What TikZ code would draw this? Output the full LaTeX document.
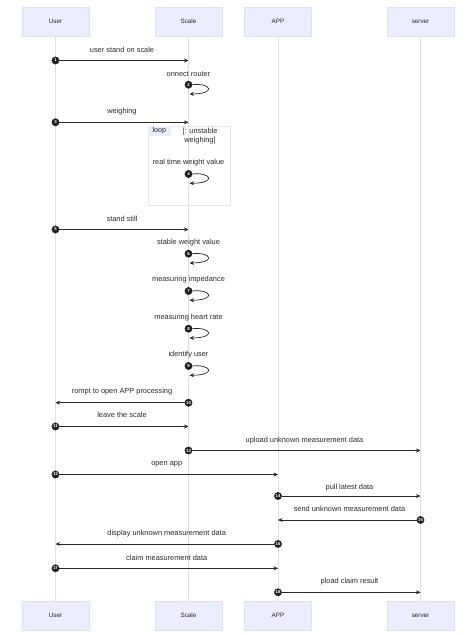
\documentclass[tikz,border=0pt]{standalone}
\usepackage{fontspec}
\setmainfont{Liberation Sans}
\usetikzlibrary{arrows.meta}
\definecolor{actfill}{RGB}{236,236,255}
\definecolor{actdraw}{RGB}{224,224,242}
\definecolor{lifec}{RGB}{224,224,224}
\definecolor{ink}{RGB}{40,40,40}
\definecolor{loopc}{RGB}{228,228,240}
\begin{document}
\begin{tikzpicture}[x=1pt,y=-1pt,
  actor/.style={draw=actdraw, fill=actfill, minimum width=67pt, minimum height=29pt, inner sep=0pt, font=\fontsize{6.3}{7}\selectfont, text=ink, line width=0.6pt},
  msg/.style={draw=ink, line width=0.7pt, -{Stealth[length=4.5pt,width=4pt]}},
  num/.style={circle, fill=black!88, draw=black!88, inner sep=0pt, minimum size=7.3pt, text=white, font=\fontsize{4.3}{4.3}\selectfont\bfseries},
  lbl/.style={font=\fontsize{7.4}{8.3}\selectfont, text=ink, inner sep=0pt, align=center},
  lifeline/.style={draw=lifec, line width=0.9pt}]
\useasboundingbox (0,0) rectangle (474,635);
% actors
\node[actor] (uT) at (55.5,21.5) {User};
\node[actor] (sT) at (188.5,21.5) {Scale};
\node[actor] (aT) at (278,21.5) {APP};
\node[actor] (vT) at (420.5,21.5) {server};
\node[actor] (uB) at (55.5,615.5) {User};
\node[actor] (sB) at (188.5,615.5) {Scale};
\node[actor] (aB) at (278,615.5) {APP};
\node[actor] (vB) at (420.5,615.5) {server};
\draw[lifeline] (uT.south) -- (uB.north);
\draw[lifeline] (sT.south) -- (sB.north);
\draw[lifeline] (aT.south) -- (aB.north);
\draw[lifeline] (vT.south) -- (vB.north);
% loop frame
\node[draw=loopc, line width=0.6pt, minimum width=82pt, minimum height=79.5pt, inner sep=0pt] (loopbox) at (189,166) {};
\node[fill=actfill, minimum width=23pt, minimum height=9.5pt, inner sep=0pt, anchor=north west, font=\fontsize{7.2}{8}\selectfont, text=ink] (looptag) at (loopbox.north west) {loop};
\node[lbl] (loopcond) at (200,136) {[: unstable\\weighing]};
% message 1
\node[num] (m1) at (55.5,60.5) {1};
\coordinate (e1) at (188.5,60.5);
\draw[msg] (m1) -- (e1);
\node[lbl] (l1) at (122,50) {user stand on scale};
% message 3
\node[num] (m3) at (55.5,122.3) {3};
\coordinate (e3) at (188.5,122.3);
\draw[msg] (m3) -- (e3);
\node[lbl] (l3) at (122,111.5) {weighing};
% message 5
\node[num] (m5) at (55.5,229.5) {5};
\coordinate (e5) at (188.5,229.5);
\draw[msg] (m5) -- (e5);
\node[lbl] (l5) at (122,218.7) {stand still};
% self messages
\foreach \n/\y/\t in {2/84.7/onnect router, 4/174/real time weight value, 6/253.7/stable weight value, 7/291/measuring impedance, 8/328.7/measuring heart rate, 9/366/identify user}{
  \node[num] (m\n) at (188.5,\y) {\n};
  \coordinate (e\n) at (189.5,\y+9.3);
  \draw[msg] (m\n.east) .. controls (211,\y-2) and (217,\y+9) .. (e\n);
  \node[lbl] (l\n) at (188.5,\y-11) {\t};
}
% message 10
\node[num] (m10) at (188.5,402.7) {10};
\coordinate (e10) at (55.5,402.7);
\draw[msg] (m10) -- (e10);
\node[lbl] (l10) at (122,391.7) {rompt to open APP processing};
% message 11
\node[num] (m11) at (55.5,426.5) {11};
\coordinate (e11) at (188.5,426.5);
\draw[msg] (m11) -- (e11);
\node[lbl] (l11) at (122,415.3) {leave the scale};
% message 12
\node[num] (m12) at (188.5,450.5) {12};
\coordinate (e12) at (420.5,450.5);
\draw[msg] (m12) -- (e12);
\node[lbl] (l12) at (304.5,440.3) {upload unknown measurement data};
% message 13
\node[num] (m13) at (55.5,474.5) {13};
\coordinate (e13) at (278,474.5);
\draw[msg] (m13) -- (e13);
\node[lbl] (l13) at (166.7,464) {open app};
% message 14
\node[num] (m14) at (278,496) {14};
\coordinate (e14) at (420.5,496);
\draw[msg] (m14) -- (e14);
\node[lbl] (l14) at (349.5,488) {pull latest data};
% message 15
\node[num] (m15) at (420.5,520) {15};
\coordinate (e15) at (278,520);
\draw[msg] (m15) -- (e15);
\node[lbl] (l15) at (349.5,509.3) {send unknown measurement data};
% message 16
\node[num] (m16) at (278,544) {16};
\coordinate (e16) at (55.5,544);
\draw[msg] (m16) -- (e16);
\node[lbl] (l16) at (166.7,533.7) {display unknown measurement data};
% message 17
\node[num] (m17) at (55.5,568.3) {17};
\coordinate (e17) at (278,568.3);
\draw[msg] (m17) -- (e17);
\node[lbl] (l17) at (166.7,557.7) {claim measurement data};
% message 18
\node[num] (m18) at (278,592.3) {18};
\coordinate (e18) at (420.5,592.3);
\draw[msg] (m18) -- (e18);
\node[lbl] (l18) at (349.5,581.3) {pload claim result};
\end{tikzpicture}
\end{document}
